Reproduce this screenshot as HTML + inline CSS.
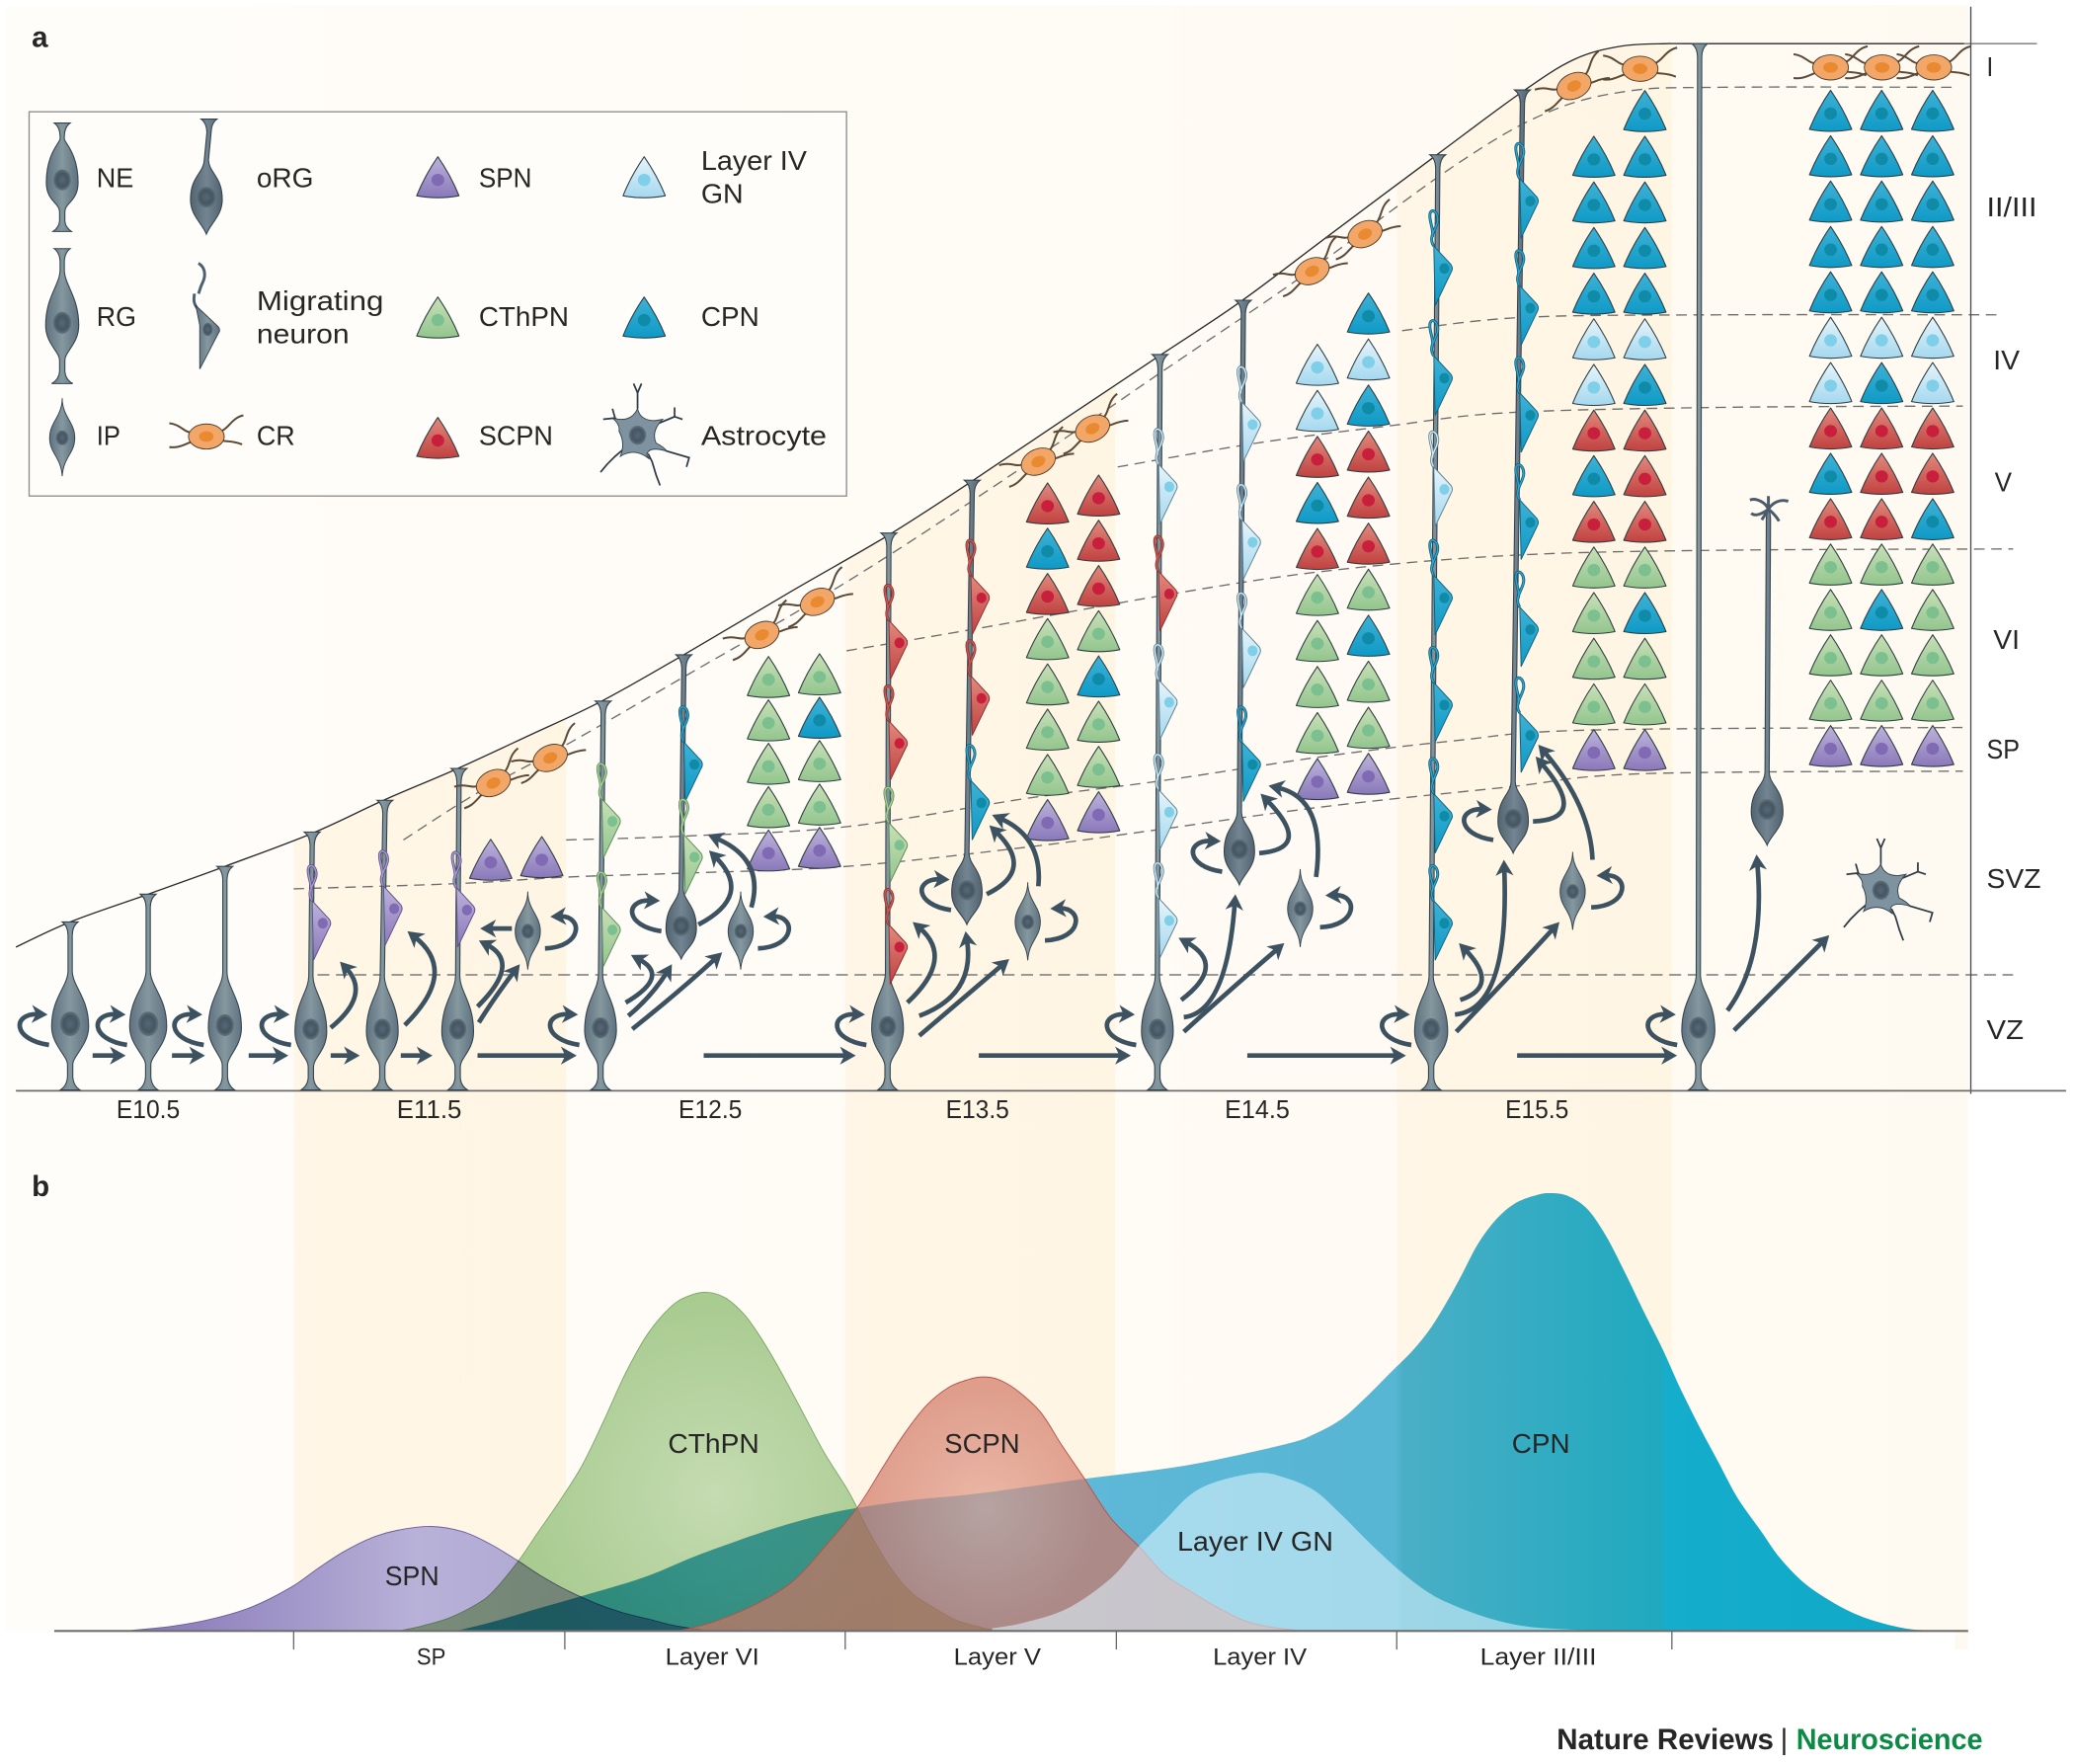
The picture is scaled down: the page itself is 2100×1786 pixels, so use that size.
<!DOCTYPE html>
<html lang="en">
<head>
<meta charset="utf-8">
<title>Cortical neurogenesis timeline</title>
<style>
html,body{margin:0;padding:0;background:#fff;}
svg{display:block;}
text{font-family:"Liberation Sans",sans-serif;fill:#262626;}
</style>
</head>
<body>
<svg id="figure" width="2100" height="1786" viewBox="0 0 1568 1333.6" xmlns="http://www.w3.org/2000/svg">
<defs>
  <linearGradient id="bg-fade" x1="0" x2="1" y1="0" y2="0"><stop offset="0" stop-color="#fffdfa"/><stop offset="1" stop-color="#fffaf1"/></linearGradient>
  <linearGradient id="band-fill" x1="0" x2="1" y1="0" y2="0"><stop offset="0" stop-color="#fff6e7"/><stop offset="1" stop-color="#fff5e3"/></linearGradient>
  <linearGradient id="grad-C" x1="0" x2="0" y1="0" y2="1"><stop offset="0" stop-color="#3fb1d6"/><stop offset="1" stop-color="#0e9ac6"/></linearGradient>
  <linearGradient id="grad-I" x1="0" x2="0" y1="0" y2="1"><stop offset="0" stop-color="#e6f4fa"/><stop offset="1" stop-color="#a5d8ef"/></linearGradient>
  <linearGradient id="grad-S" x1="0" x2="0" y1="0" y2="1"><stop offset="0" stop-color="#e2897d"/><stop offset="1" stop-color="#c04240"/></linearGradient>
  <linearGradient id="grad-G" x1="0" x2="0" y1="0" y2="1"><stop offset="0" stop-color="#c8e0b6"/><stop offset="1" stop-color="#93c58e"/></linearGradient>
  <linearGradient id="grad-P" x1="0" x2="0" y1="0" y2="1"><stop offset="0" stop-color="#bdb3dc"/><stop offset="1" stop-color="#8a78b9"/></linearGradient>
  <linearGradient id="grad-cell" x1="0" x2="1" y1="0" y2="0"><stop offset="0" stop-color="#5f7280"/><stop offset=".5" stop-color="#85989f"/><stop offset="1" stop-color="#5f7280"/></linearGradient>
  <linearGradient id="grad-dark" x1="0" x2="1" y1="0" y2="0"><stop offset="0" stop-color="#536470"/><stop offset=".5" stop-color="#738592"/><stop offset="1" stop-color="#536470"/></linearGradient>
  <radialGradient id="grad-nucleus"><stop offset="0" stop-color="#56687a"/><stop offset=".65" stop-color="#45565f"/><stop offset="1" stop-color="#5f7380"/></radialGradient>
  <radialGradient id="area-G" gradientUnits="userSpaceOnUse" cx="540" cy="1130" r="150"><stop offset="0" stop-color="#c5dbb1"/><stop offset="1" stop-color="#a8cb90"/></radialGradient>
  <radialGradient id="area-S" gradientUnits="userSpaceOnUse" cx="745" cy="1140" r="90"><stop offset="0" stop-color="#e19a88"/><stop offset="1" stop-color="#d07462"/></radialGradient>
  <linearGradient id="area-P" gradientUnits="userSpaceOnUse" x1="100" x2="530" y1="0" y2="0"><stop offset="0" stop-color="#8576b6"/><stop offset=".5" stop-color="#b8b1d8"/><stop offset="1" stop-color="#a79fcc"/></linearGradient>
  <linearGradient id="area-C" gradientUnits="userSpaceOnUse" x1="345" x2="1455" y1="0" y2="0"><stop offset="0" stop-color="#3aa6cc"/><stop offset=".4" stop-color="#5fb8d8"/><stop offset=".64" stop-color="#56b6d3"/><stop offset=".645" stop-color="#4aafc6"/><stop offset=".82" stop-color="#1fa9bf"/><stop offset=".825" stop-color="#15adcc"/><stop offset="1" stop-color="#0fa8c6"/></linearGradient>
  <clipPath id="below-pial"><path id="below-pial-shape" d=""/></clipPath>
</defs>

<rect x="4" y="4" width="1484" height="1229" fill="url(#bg-fade)"/>
<rect x="1478" y="1233" width="10" height="14" fill="#fffaf1"/>
<g id="bands" clip-path="url(#below-pial)"></g>
<g id="diagram"></g>
<g id="areas" style="isolation:isolate"></g>
<g id="legend"></g>

<g transform="translate(0,-0.6)">
  <text x="24" y="36" font-size="22" font-weight="bold" fill="#111">a</text>
  <text x="24" y="905" font-size="22" font-weight="bold" fill="#111">b</text>

  <text x="73" y="142" font-size="21" textLength="28" lengthAdjust="spacingAndGlyphs">NE</text>
  <text x="194" y="142" font-size="21" textLength="43" lengthAdjust="spacingAndGlyphs">oRG</text>
  <text x="362" y="142" font-size="21" textLength="40" lengthAdjust="spacingAndGlyphs">SPN</text>
  <text x="530" y="129" font-size="21" textLength="80" lengthAdjust="spacingAndGlyphs">Layer IV</text>
  <text x="530" y="154" font-size="21" textLength="32" lengthAdjust="spacingAndGlyphs">GN</text>
  <text x="73" y="247" font-size="21" textLength="30" lengthAdjust="spacingAndGlyphs">RG</text>
  <text x="194" y="235" font-size="21" textLength="96" lengthAdjust="spacingAndGlyphs">Migrating</text>
  <text x="194" y="260" font-size="21" textLength="70" lengthAdjust="spacingAndGlyphs">neuron</text>
  <text x="362" y="247" font-size="21" textLength="68" lengthAdjust="spacingAndGlyphs">CThPN</text>
  <text x="530" y="247" font-size="21" textLength="44" lengthAdjust="spacingAndGlyphs">CPN</text>
  <text x="73" y="337" font-size="21" textLength="18" lengthAdjust="spacingAndGlyphs">IP</text>
  <text x="194" y="337" font-size="21" textLength="29" lengthAdjust="spacingAndGlyphs">CR</text>
  <text x="362" y="337" font-size="21" textLength="56" lengthAdjust="spacingAndGlyphs">SCPN</text>
  <text x="530" y="337" font-size="21" textLength="95" lengthAdjust="spacingAndGlyphs">Astrocyte</text>

  <text x="1502" y="58" font-size="21" textLength="5" lengthAdjust="spacingAndGlyphs">I</text>
  <text x="1502" y="164" font-size="21" textLength="38" lengthAdjust="spacingAndGlyphs">II/III</text>
  <text x="1507" y="280" font-size="21" textLength="20" lengthAdjust="spacingAndGlyphs">IV</text>
  <text x="1508" y="372" font-size="21" textLength="13" lengthAdjust="spacingAndGlyphs">V</text>
  <text x="1507" y="491" font-size="21" textLength="20" lengthAdjust="spacingAndGlyphs">VI</text>
  <text x="1502" y="574" font-size="21" textLength="25" lengthAdjust="spacingAndGlyphs">SP</text>
  <text x="1502" y="672" font-size="21" textLength="41" lengthAdjust="spacingAndGlyphs">SVZ</text>
  <text x="1502" y="786" font-size="21" textLength="28" lengthAdjust="spacingAndGlyphs">VZ</text>

  <text x="88" y="846" font-size="19" textLength="48" lengthAdjust="spacingAndGlyphs">E10.5</text>
  <text x="300" y="846" font-size="19" textLength="49" lengthAdjust="spacingAndGlyphs">E11.5</text>
  <text x="513" y="846" font-size="19" textLength="48" lengthAdjust="spacingAndGlyphs">E12.5</text>
  <text x="715" y="846" font-size="19" textLength="48" lengthAdjust="spacingAndGlyphs">E13.5</text>
  <text x="926" y="846" font-size="19" textLength="49" lengthAdjust="spacingAndGlyphs">E14.5</text>
  <text x="1138" y="846" font-size="19" textLength="48" lengthAdjust="spacingAndGlyphs">E15.5</text>

  <text x="291" y="1199" font-size="21" textLength="41" lengthAdjust="spacingAndGlyphs">SPN</text>
  <text x="505" y="1099" font-size="21" textLength="69" lengthAdjust="spacingAndGlyphs">CThPN</text>
  <text x="714" y="1099" font-size="21" textLength="57" lengthAdjust="spacingAndGlyphs">SCPN</text>
  <text x="1143" y="1099" font-size="21" textLength="44" lengthAdjust="spacingAndGlyphs">CPN</text>
  <text x="890" y="1173" font-size="21" textLength="118" lengthAdjust="spacingAndGlyphs">Layer IV GN</text>

  <text x="315" y="1259" font-size="18" textLength="22" lengthAdjust="spacingAndGlyphs">SP</text>
  <text x="503" y="1259" font-size="18" textLength="71" lengthAdjust="spacingAndGlyphs">Layer VI</text>
  <text x="721" y="1259" font-size="18" textLength="66" lengthAdjust="spacingAndGlyphs">Layer V</text>
  <text x="917" y="1259" font-size="18" textLength="71" lengthAdjust="spacingAndGlyphs">Layer IV</text>
  <text x="1119" y="1259" font-size="18" textLength="88" lengthAdjust="spacingAndGlyphs">Layer II/III</text>

  <text x="1177" y="1323" font-size="22" font-weight="bold" fill="#1d1d1d" textLength="164" lengthAdjust="spacingAndGlyphs">Nature Reviews</text>
  <text x="1346" y="1323" font-size="22" fill="#1d1d1d">|</text>
  <text x="1358" y="1323" font-size="22" font-weight="bold" style="fill:#0a8a43" textLength="141" lengthAdjust="spacingAndGlyphs">Neuroscience</text>
</g>

<script>
/* ---------- Panel b: relative abundance of each neuron class over developmental time ---------- */
const spnTime  = [0,3,6,9,12,14,16,18,20,22.6,25,27,29,31,33,35,37,39,41,43];
const spnValue = [0.5,3.5,9,18,33,47,60,70,76,79,75,66,54,41,30,21,14,9,4,1];
const cthpnTime  = [20.2,22,24,26,27.3,29.2,30.7,32.3,34,35.7,37.3,39,40.7,42,43.4,44.8,46.2,47.3,48.7,50.7,52.3,54,54.8,55.7,57.3,59,60.7,62.3,64,65,67];
const cthpnValue = [0,4,10,20,30,53,75,98,125,160,195,225,245,253,256,252,240,225,202,165,135,108,93,75,48,28,17,8,3,1,0];
const scpnTime  = [41.3,44,47.3,50,52.3,54.8,56.7,58.3,60,61.7,63.2,64.3,65.5,67,68.7,70.3,72,74,76.1,78,80,82,84,86,88.5];
const scpnValue = [0,7,21,38,63,93,123,148,170,184,190,192,190,181,165,140,115,85,64,43,30,18,8,3,0];
const ivTime  = [65,67.3,70.7,74,76.1,78,80,82,85.1,87.1,89.4,91.4,93.4,95.7,98,100,102.8,105.7,110];
const ivValue = [2,6,17,40,64,83,103,113,119.5,116,106,88,68,46.6,29,19,9,3,0.5];
const cpnTime  = [24.5,27.3,30.7,34.2,38.7,42.3,45.7,49,52.3,54.8,59,64,72,79.6,87.1,89.4,91.4,93.1,95.1,96.8,98.2,99.4,100.5,101.7,103.1,104.5,106,107.1,108.5,110,111.4,112.8,114.2,115.7,117.1,118.5,120,121.4,123.1,124.5,126.2,128,130,131.9,134,135.5];
const cpnValue = [0,7,17,27,40.6,55.5,68,79,88,93,99,104,115,125,141,149,160,175,195,212,229.5,249,269,292,311,323,329,331,329,319,299,272,243,213,182,154,126,100,76,56,38,25,14,7,2,0.5];
const timeTicks = [12.2,32.7,53.9,74.4,95.6,116.4];

/* ---------- Panel a: cohorts of neurons (bottom-up), S=SCPN G=CThPN P=SPN C=CPN I=Layer IV GN ---------- */
const cohortColumns = [
  ["P","P"],
  ["PGGGG","PGGCG"],
  ["PGGGGSCS","PGGCGSSS"],
  ["PGGGGSCSII","PGGCGSSSCIC"],
  ["PGGGGSCSIICCCC","PGGCGSSSCICCCCC"],
  ["PGGGGSCSIICCCCC","PGGCGSSSCICCCCC","PGGGGCSSIICCCCC"]
];
const cohortLeft = [371,581,792,996,1205,1384];
const cohortDepth = [652,645,622,591,569,566];
const cohortPitch = [33,32.8,34.2,34.8,34.5,34.3];
const cohortSkew = [-2,-2,-6,-4,0,0];

/* Migrating neurons on radial fibres: type string and soma depths */
const migratingFibres = [244,298,353,463,525,680,742,884,947,1092,1157];
const migratingTypes = ["P","P","P","GG","CG","SSGS","SSC","ISIII","IIIC","CCICCCC","CCCCCC"];
const migratingDepths = [[698],[687],[688],[621,703],[578,648],[486,562,639,716],[452,528,607],[368,449,531,614,696],[321,410,492,578],[203,286,370,452,533,617,698],[152,233,314,395,476,556]];

/* Radial glia */
const glialX = [53,112,170,235,289,346,454,671,875,1082,1284];
const glialTopX = [53,112,170,236,291,347,456,672,877,1087,1285];
const glialTop = [697,676,655,629,605,581,530,403,268,117,33];
const glialSoma = [774,774,775,778,778,778,777,776,778,778,777];
const glialWidth = [14,14,12.5,12,12,12,12,12,12,12.5,12.5];
const outerX = [515,731,937,1144];
const outerTopX = [517,735,940,1151];
const outerTop = [495,363,227,68];
const outerSoma = [700,673,642,619];
const outerTip = [725,699,669,645];
const ipX = [399,560,777,983,1189];
const ipY = [704,704,697,687,674];
const crX = [373,416,576,618,785,826,992,1032,1190,1240,1384,1423,1462];
const crY = [592,573,480,455,349,324,205,177,65,52,51,51,51];
const crTilt = [-25,-25,-25,-25,-25,-25,-25,-25,-25,0,0,0,0];

/* Surfaces */
const pialLine = [[12,716],[53,697],[112,676],[170,655],[236,630],[290,605],[346,581],[400,556],[455,530],[517,495],[600,446],[671,405],[733,365],[800,320],[875,270],[938,228],[1010,174],[1085,118],[1150,70],[1190,45],[1225,35],[1260,33],[1284,33],[1485,33]];
const boundaryLines = [
  [[305,635],[360,600],[430,562],[520,510],[640,440],[760,362],[880,280],[980,212],[1100,125],[1170,85],[1230,69],[1300,66],[1480,66]],
  [[1060,250],[1150,240],[1300,238],[1514,238]],
  [[845,353],[950,335],[1050,322],[1140,312],[1300,308],[1484,307]],
  [[640,492],[740,475],[880,450],[1000,432],[1140,420],[1300,416],[1522,415]],
  [[428,635],[520,632],[640,625],[780,603],[880,590],[1000,572],[1100,560],[1200,552],[1484,550]],
  [[222,672],[346,668],[430,663],[520,660],[640,655],[780,640],[870,628],[1000,610],[1140,595],[1240,585],[1484,583]]
];
const stageBands = [[222,428],[639,843],[1056,1264]];

const svg = document.getElementById('figure');
const NS = svg.namespaceURI;
function make(tag, attrs, parent){
  const e = document.createElementNS(NS, tag);
  for (const k in attrs) e.setAttribute(k, attrs[k]);
  parent.appendChild(e);
  return e;
}
const xTime = t => 100 + 10 * t;
const yValue = v => 1233 - v;

function smooth(pts){
  let d = '';
  for (let i = 0; i < pts.length - 1; i++){
    const p0 = pts[Math.max(i-1,0)], p1 = pts[i], p2 = pts[i+1], p3 = pts[Math.min(i+2,pts.length-1)];
    const c1x = p1[0] + (p2[0]-p0[0])/6, c1y = p1[1] + (p2[1]-p0[1])/6;
    const c2x = p2[0] - (p3[0]-p1[0])/6, c2y = p2[1] - (p3[1]-p1[1])/6;
    d += ` C${c1x.toFixed(1)},${c1y.toFixed(1)} ${c2x.toFixed(1)},${c2y.toFixed(1)} ${p2[0].toFixed(1)},${p2[1].toFixed(1)}`;
  }
  return d;
}

/* ---------- backgrounds ---------- */
document.getElementById('below-pial-shape').setAttribute('d',
  `M${pialLine[0][0]},${pialLine[0][1]}` + smooth(pialLine) + ' L1488,33 L1488,1233 L12,1233 Z');
const bandsG = document.getElementById('bands');
stageBands.forEach(b => {
  const r = make('rect', {x:b[0], y:0, width:b[1]-b[0], height:1233, fill:'url(#band-fill)'}, bandsG);
  
  
});

/* ---------- panel a ---------- */
const dia = document.getElementById('diagram');
const NUC = {C:'#0f8ba8', I:'#7fcfe8', S:'#c81f3c', G:'#7cc08f', P:'#7f6ab3'};
const EDGE = {C:'#0e5f7c', I:'#5a7f92', S:'#8c2f30', G:'#5c8a5a', P:'#5d5088'};
const SQUIGGLE = {C:'#2fa6cf', I:'#d3e9f4', S:'#c85a52', G:'#a9d09a', P:'#a99cd0'};
const NAMES = {C:'cpn', I:'layer-iv-gn', S:'scpn', G:'cthpn', P:'spn'};
const STROKE = '#33434d';

boundaryLines.forEach(line => {
  const p = make('path', {d:`M${line[0][0]},${line[0][1]}` + smooth(line), fill:'none', stroke:'#6c6c6c', 'stroke-width':1, 'stroke-dasharray':'8 5'}, dia);
  
  
});
const vzLine = make('line', {x1:240, y1:737, x2:1522, y2:737, stroke:'#8b8b8b', 'stroke-width':1.3, 'stroke-dasharray':'9 5'}, dia);



const pial = make('path', {d:`M${pialLine[0][0]},${pialLine[0][1]}` + smooth(pialLine), fill:'none', stroke:'#2b2b2b', 'stroke-width':1}, dia);


const pialRight = make('line', {x1:1485, y1:33, x2:1540, y2:33, stroke:'#777', 'stroke-width':1}, dia);


const zoneAxis = make('line', {x1:1490, y1:5, x2:1490, y2:827, stroke:'#4a4a4a', 'stroke-width':1}, dia);


const ventricle = make('line', {x1:12, y1:824.6, x2:1562, y2:824.6, stroke:'#6d6d6d', 'stroke-width':1.3}, dia);



function nucleus(x, y, rx, ry, parent, fill){
  const n = make('ellipse', {cx:x, cy:y, rx:rx, ry:ry, fill:fill || 'url(#grad-nucleus)'}, parent);
  
  
}
function radialGlia(x, tx, top, soma, hw, bottom, foot, parent, name){
  const upper = soma - Math.min(40, (soma-top)*.72);
  const lower = soma + (bottom-soma)*.62;
  const footTop = bottom - (bottom-soma)*.2;
  const d = `M${tx-6},${top} L${tx+6},${top} Q${tx+1.8},${top+3} ${tx+1.6},${top+10} L${x+1.6},${upper}`
    + ` C${x+1.8},${soma-28} ${x+hw},${soma-20} ${x+hw},${soma+2} C${x+hw},${soma+16} ${x+2},${lower-7} ${x+2},${lower}`
    + ` L${x+2},${footTop} Q${x+2.5},${bottom-3} ${x+foot},${bottom} L${x-foot},${bottom} Q${x-2.5},${bottom-3} ${x-2},${footTop}`
    + ` L${x-2},${lower} C${x-2},${lower-7} ${x-hw},${soma+16} ${x-hw},${soma+2} C${x-hw},${soma-20} ${x-1.8},${soma-28} ${x-1.6},${upper}`
    + ` L${tx-1.6},${top+10} Q${tx-1.8},${top+3} ${tx-6},${top} Z`;
  const p = make('path', {d:d, fill:'url(#grad-cell)', stroke:STROKE, 'stroke-width':.8}, parent);
  
  
  nucleus(x, soma, hw*.55, hw*.66, parent);
}
function outerGlia(x, tx, top, soma, tip, hw, parent, name, noFoot){
  const w = noFoot ? 0 : 6;
  const d = `M${tx-w},${top} L${tx+w},${top} Q${tx+1.8},${top+3} ${tx+1.6},${top+10} L${x+1.6},${soma-28}`
    + ` C${x+2},${soma-18} ${x+hw},${soma-16} ${x+hw},${soma+2} C${x+hw},${soma+14} ${x+3},${tip-8} ${x},${tip}`
    + ` C${x-3},${tip-8} ${x-hw},${soma+14} ${x-hw},${soma+2} C${x-hw},${soma-16} ${x-2},${soma-18} ${x-1.6},${soma-28}`
    + ` L${tx-1.6},${top+10} Q${tx-1.8},${top+3} ${tx-w},${top} Z`;
  const p = make('path', {d:d, fill:'url(#grad-dark)', stroke:STROKE, 'stroke-width':.8}, parent);
  
  
  nucleus(x, soma, hw*.62, hw*.66, parent);
}
function ipCell(x, y, parent){
  const h = 9.5;
  const d = `M${x},${y-30} C${x},${y-16} ${x+h},${y-12} ${x+h},${y} C${x+h},${y+12} ${x+1},${y+14} ${x},${y+29} C${x-1},${y+14} ${x-h},${y+12} ${x-h},${y} C${x-h},${y-12} ${x},${y-16} ${x},${y-30} Z`;
  const p = make('path', {d:d, fill:'url(#grad-cell)', stroke:STROKE, 'stroke-width':.7}, parent);
  
  
  nucleus(x, y, 4.8, 5.6, parent);
}
function pyramid(cx, cy, type, parent){
  const a = cy - 17.5, b = cy + 12;
  const d = `M${cx},${a} Q${cx+10},${cy-3} ${cx+16},${b} Q${cx},${b+3} ${cx-16},${b} Q${cx-10},${cy-3} ${cx},${a} Z`;
  const p = make('path', {d:d, fill:`url(#grad-${type})`, stroke:'#2d3c40', 'stroke-width':.8, 'stroke-linejoin':'round'}, parent);
  
  
  nucleus(cx, cy, 4.8, 4.6, parent, NUC[type]);
}
function migrating(nx, ny, type, parent){
  const x0 = nx - 8;
  const squiggle = `M${x0},${ny-17} C${x0-5},${ny-24} ${x0+3},${ny-31} ${x0+3},${ny-37} C${x0+3},${ny-44} ${x0-3},${ny-46} ${x0-3},${ny-40} C${x0-3},${ny-34} ${x0},${ny-30} ${x0-1},${ny-24}`;
  const s1 = make('path', {d:squiggle, fill:'none', stroke:EDGE[type], 'stroke-width':2.2}, parent);
  
  
  const s2 = make('path', {d:squiggle, fill:'none', stroke:SQUIGGLE[type], 'stroke-width':1}, parent);
  
  
  const p = make('path', {d:`M${x0},${ny-17} L${x0+13},${ny-3} Q${x0+15},${ny} ${x0+13},${ny+3} L${x0+1},${ny+28} Z`, fill:`url(#grad-${type})`, stroke:EDGE[type], 'stroke-width':.7}, parent);
  
  
  nucleus(nx, ny, 3.8, 4, parent, NUC[type]);
}
function crCell(x, y, tilt, parent){
  const g = make('g', {transform:`translate(${x},${y}) rotate(${tilt})`}, parent);
  
  
  const arms = make('path', {d:'M-11,-3 C-17,-3 -19,-9 -28,-10 M-11,4 C-17,6 -21,9 -28,8 M11,-4 C17,-6 19,-14 28,-16 M11,3 C16,4 20,3 27,6', fill:'none', stroke:'#5c4a38', 'stroke-width':1.5}, g);
  
  
  const b = make('ellipse', {cx:0, cy:0, rx:13.5, ry:9.5, fill:'#f2a768', stroke:'#4d3d2d', 'stroke-width':.7}, g);
  
  
  const n = make('ellipse', {cx:0, cy:0, rx:5.5, ry:4, fill:'#ea8a30'}, g);
  
  
}
function astrocyte(x, y, parent){
  const g = make('g', {transform:`translate(${x},${y})`}, parent);
  
  
  const procs = make('path', {d:'M0,-20 L0,-32 L-3,-39 M0,-32 L3,-39 M-12,-8 L-17,-13 L-19,-20 M-17,-13 L-26,-12 M16,-9 L28,-14 L28,-21 M28,-14 L34,-12 M16,8 L22,12 L39,17 L37,24 M-10,10 L-17,16 L-23,22 L-28,28 M8,14 L11,20 L14,30 L17,38',
    fill:'none', stroke:'#2e3b44', 'stroke-width':1.3}, g);
  
  
  const b = make('path', {d:'M0,-20 Q2,-11 13,-11 L19,-12 Q10,-3 14,6 Q20,9 22,12 Q8,8 7,15 L9,18 Q-2,9 -13,16 Q-9,6 -14,-3 Q-13,-8 -19,-13 Q-5,-9 0,-20 Z', fill:'#7f929f', stroke:STROKE, 'stroke-width':.7}, g);
  
  
  nucleus(0, 0, 6.5, 7.2, g);
}

/* arrows */
const ARROW = '#3c5261';
const ARROW_W = 3.5;
function drawHead(tx, ty, ax, parent){
  const L = 12, W = 6.8;
  const c = Math.cos(ax), s = Math.sin(ax);
  const bx = tx - L*c, by = ty - L*s;
  const nx = tx - L*.72*c, ny = ty - L*.72*s;
  const h = make('polygon', {points:`${tx},${ty} ${bx - W*s},${by + W*c} ${nx},${ny} ${bx + W*s},${by - W*c}`, fill:ARROW}, parent);
  
  
}
function arrowCubic(pts, parent){
  const [sx,sy,c1x,c1y,c2x,c2y,tx,ty] = pts;
  const ax = Math.atan2(ty-c2y, tx-c2x);
  const ex = tx - 7*Math.cos(ax), ey = ty - 7*Math.sin(ax);
  const p = make('path', {d:`M${sx},${sy} C${c1x},${c1y} ${c2x},${c2y} ${ex},${ey}`, fill:'none', stroke:ARROW, 'stroke-width':ARROW_W}, parent);
  
  
  drawHead(tx, ty, ax, parent);
}
function arrowVia(pts, parent){
  const [sx,sy,vx,vy,tx,ty] = pts;
  const cx = 2*vx - .5*(sx+tx), cy = 2*vy - .5*(sy+ty);
  const ax = Math.atan2(ty-cy, tx-cx);
  const ex = tx - 7*Math.cos(ax), ey = ty - 7*Math.sin(ax);
  const p = make('path', {d:`M${sx},${sy} Q${cx},${cy} ${ex},${ey}`, fill:'none', stroke:ARROW, 'stroke-width':ARROW_W}, parent);
  
  
  drawHead(tx, ty, ax, parent);
}
function selfLeft(x, y, parent){
  arrowCubic([x-16, y+14, x-44, y+10, x-44, y-10, x-17, y-9], parent);
}
function selfRight(x, y, parent){
  arrowCubic([x+13, y+13, x+42, y+12, x+42, y-12, x+17, y-11], parent);
}

/* cells */
glialX.forEach((x,i) => {
  radialGlia(x, glialTopX[i], glialTop[i], glialSoma[i], glialWidth[i], 824, 7.5, dia, 'radial-glia');
});
outerX.forEach((x,i) => {
  outerGlia(x, outerTopX[i], outerTop[i], outerSoma[i], outerTip[i], 11.5, dia, 'outer-radial-glia');
});
/* fibre with tuft at the far right */
outerGlia(1336, 1337, 385, 612, 639, 12, dia, 'maturing-radial-glia', true);
const tuft = make('path', {d:'M1337,385 C1335,380 1328,376 1323,378 M1337,385 C1333,388 1327,391 1324,388 M1337,385 C1340,380 1346,377 1352,379 M1337,385 C1341,388 1344,392 1345,394 M1337,385 L1332,393 M1337,385 L1337,375', fill:'none', stroke:'#4a5c69', 'stroke-width':2.2}, dia);


ipX.forEach((x,i) => ipCell(x, ipY[i], dia));
crX.forEach((x,i) => crCell(x, crY[i], crTilt[i], dia));
astrocyte(1422, 673, dia);

migratingFibres.forEach((nx,i) => {
  migratingDepths[i].forEach((ny,j) => migrating(nx, ny, migratingTypes[i][j], dia));
});

cohortColumns.forEach((cols,i) => {
  cols.forEach((col,c) => {
    [...col].forEach((type,r) => {
      const skew = c === 1 ? cohortSkew[i] : 0;
      pyramid(cohortLeft[i] + c*38.6, cohortDepth[i] + skew - r*cohortPitch[i], type, dia);
    });
  });
});

/* forward (time) arrows along the VZ */
const forwardStart = [70,130,188,250,303,361,532,740,943,1147];
const forwardEnd = [95,155,218,272,327,436,647,855,1063,1268];
forwardStart.forEach((s,i) => {
  const l = make('line', {x1:s, y1:798, x2:forwardEnd[i]-7, y2:798, stroke:ARROW, 'stroke-width':ARROW_W}, dia);
  
  
  drawHead(forwardEnd[i], 798, 0, dia);
});
/* self-renewal arrows */
const selfLeftX = [53,112,170,236,454,671,875,1083,1284];
selfLeftX.forEach(x => selfLeft(x, 776, dia));
selfLeft(516, 690, dia);
selfLeft(735, 674, dia);
selfLeft(940, 645, dia);
selfLeft(1145, 621, dia);
selfRight(399, 704, dia);
selfRight(560, 704, dia);
selfRight(777, 698, dia);
selfRight(985, 688, dia);
selfRight(1190, 673, dia);

const viaArrows = [
  [250,777,267,752,257,727],[306,775,327,737,308,704],[361,761,378,732,362,711],[362,773,376,752,393,729],
  [473,758,491,739,477,722],[475,768,492,751,508,729],[478,778,512,750,546,720],
  [528,699,551,674,536,643],[568,686,565,654,535,631],
  [686,758,705,726,690,697],[695,768,725,744,730,704],[695,783,729,754,763,725],
  [746,676,765,654,748,624],[785,670,778,638,750,616],
  [893,756,910,731,891,709],[895,769,921,744,934,676],[895,780,933,746,971,713],
  [952,645,973,632,953,600],[995,663,990,616,959,594],
  [1104,756,1119,740,1103,713],[1100,767,1130,736,1137,650],[1101,780,1140,739,1179,697],
  [1159,621,1181,608,1161,572],[1204,650,1193,608,1163,563],
  [1306,764,1326,715,1328,646],[1311,779,1347,743,1383,707]
];
viaArrows.forEach(a => arrowVia(a, dia));
const leftFromIp = make('line', {x1:387, y1:702, x2:370, y2:702, stroke:ARROW, 'stroke-width':ARROW_W}, dia);


drawHead(363, 702, Math.PI, dia);

/* ---------- panel b ---------- */
const areasG = document.getElementById('areas');
function area(times, values, fill, stroke, opacity, blend, name){
  const pts = times.map((t,i) => [xTime(t), yValue(values[i])]);
  const d = `M${pts[0][0]},${yValue(0)} L${pts[0][0]},${pts[0][1]}` + smooth(pts) + ` L${pts[pts.length-1][0]},${yValue(0)} Z`;
  const p = make('path', {d:d, fill:fill, stroke:stroke, 'stroke-width':.7, 'fill-opacity':opacity}, areasG);
  if (blend) p.style.mixBlendMode = blend;
  
  
}
area(cthpnTime, cthpnValue, 'url(#area-G)', '#7fa86a', 1, null, 'cthpn-area');
area(spnTime, spnValue, 'url(#area-P)', '#6a5fa0', 1, 'multiply', 'spn-area');
area(cpnTime, cpnValue, 'url(#area-C)', 'none', 1, 'multiply', 'cpn-area');
area(scpnTime, scpnValue, 'url(#area-S)', '#b8504a', .68, null, 'scpn-area');
area(ivTime, ivValue, '#dcf3fd', 'none', .58, null, 'layer-iv-gn-area');

const baseB = make('line', {x1:41, y1:1233, x2:1488, y2:1233, stroke:'#6f6f6f', 'stroke-width':1.6}, areasG);


timeTicks.forEach(t => {
  const l = make('line', {x1:xTime(t), y1:1233, x2:xTime(t), y2:1247, stroke:'#6a6a6a', 'stroke-width':1}, areasG);
  
  
});

/* ---------- legend ---------- */
const lg = document.getElementById('legend');
const box = make('rect', {x:22, y:84.5, width:618, height:290.5, fill:'#fffdf9', stroke:'#8c8c8c', 'stroke-width':1}, lg);


radialGlia(47, 47, 93, 136, 12, 175, 7, lg, 'legend-ne-icon');
radialGlia(47, 47, 188, 244, 12.5, 290, 8, lg, 'legend-rg-icon');
outerGlia(156, 158, 90, 149, 177, 12, lg, 'legend-org-icon');
ipCell(47, 331, lg);
const legMigPro = make('path', {d:'M150,199 C155,202 156,208 153,214 C151,218 151,220 150,222 M147,222 C146,228 147,230 149,233', fill:'none', stroke:'#4d6070', 'stroke-width':2.2}, lg);


const legMig = make('path', {d:'M148,231 L165,247 Q167,250 165,252 L151,279 L151,246 Z', fill:'url(#grad-cell)', stroke:STROKE, 'stroke-width':.7}, lg);


nucleus(157, 249, 3.8, 5, lg);
crCell(156, 330, 0, lg);
pyramid(331, 136, 'P', lg);
pyramid(487, 136, 'I', lg);
pyramid(331, 242, 'G', lg);
pyramid(487, 242, 'C', lg);
pyramid(331, 333, 'S', lg);
astrocyte(482, 329, lg);
</script>
</svg>
</body>
</html>
